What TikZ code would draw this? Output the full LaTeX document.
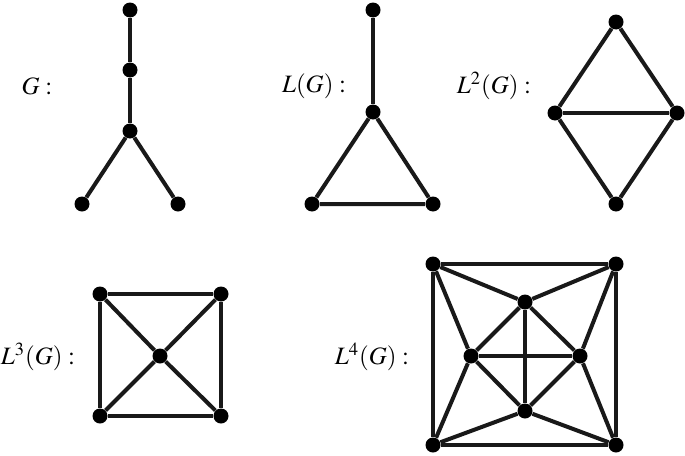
\documentclass[tikz,border=0pt]{standalone}
\usepackage{mathptmx}
\usepackage{tikz}
\usetikzlibrary{positioning}
\tikzset{
  vert/.style={circle, fill=black, draw=none, inner sep=0pt, minimum size=7.5pt},
  edge/.style={line width=2pt, color=black!90},
  glabel/.style={font=\fontsize{12.5}{15}\selectfont, inner sep=0pt}
}

\begin{document}
\begin{tikzpicture}[x=0.5pt, y=-0.5pt]
  \useasboundingbox (0,0) rectangle (685,455);

  % G
  \node[glabel] (lG) at (37,86) {$G:$};
  \node[vert] (g1) at (130,10) {};
  \node[vert] (g2) at (130,70) {};
  \node[vert] (g3) at (130,131) {};
  \node[vert] (g4) at (82,204) {};
  \node[vert] (g5) at (178,204) {};
  \draw[edge] (g1) -- (g2) -- (g3);
  \draw[edge] (g3) -- (g4);
  \draw[edge] (g3) -- (g5);

  % L(G)
  \node[glabel] (lL1) at (314,86) {$L(G):$};
  \node[vert] (a1) at (373,10) {};
  \node[vert] (a2) at (373,112) {};
  \node[vert] (a3) at (312,204) {};
  \node[vert] (a4) at (433,204) {};
  \draw[edge] (a1) -- (a2);
  \draw[edge] (a2) -- (a3) -- (a4) -- (a2);

  % L^2(G)
  \node[glabel] (lL2) at (494,86) {$L^2(G):$};
  \node[vert] (b1) at (616,22) {};
  \node[vert] (b2) at (555,113) {};
  \node[vert] (b3) at (677,113) {};
  \node[vert] (b4) at (616,204) {};
  \draw[edge] (b1) -- (b2) -- (b4) -- (b3) -- (b1);
  \draw[edge] (b2) -- (b3);

  % L^3(G)
  \node[glabel] (lL3) at (38,357) {$L^3(G):$};
  \node[vert] (c1) at (100,294) {};
  \node[vert] (c2) at (221,294) {};
  \node[vert] (c3) at (160,356) {};
  \node[vert] (c4) at (100,416) {};
  \node[vert] (c5) at (221,416) {};
  \draw[edge] (c1) -- (c2) -- (c5) -- (c4) -- (c1);
  \foreach \v in {c1,c2,c4,c5}
    \draw[edge] (c3) -- (\v);

  % L^4(G)
  \node[glabel] (lL4) at (372,357) {$L^4(G):$};
  \node[vert] (d1) at (433,264) {};
  \node[vert] (d2) at (616,264) {};
  \node[vert] (d3) at (433,445) {};
  \node[vert] (d4) at (616,445) {};
  \node[vert] (dt) at (525,302) {};
  \node[vert] (dl) at (471,356) {};
  \node[vert] (dr) at (580,356) {};
  \node[vert] (db) at (525,411) {};
  \draw[edge] (d1) -- (d2) -- (d4) -- (d3) -- (d1);
  \draw[edge] (dt) -- (dr) -- (db) -- (dl) -- (dt);
  \draw[edge] (dt) -- (db);
  \draw[edge] (dl) -- (dr);
  \draw[edge] (d1) -- (dt);  \draw[edge] (d1) -- (dl);
  \draw[edge] (d2) -- (dt);  \draw[edge] (d2) -- (dr);
  \draw[edge] (d3) -- (dl);  \draw[edge] (d3) -- (db);
  \draw[edge] (d4) -- (dr);  \draw[edge] (d4) -- (db);
\end{tikzpicture}
\end{document}
